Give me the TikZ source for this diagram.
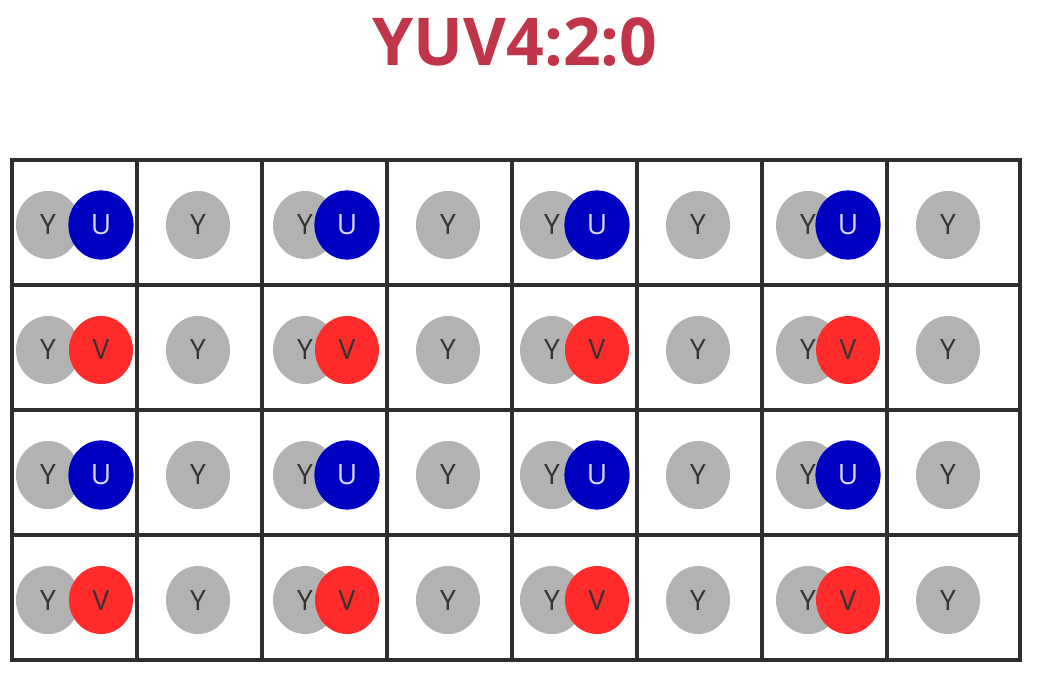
\documentclass[tikz,border=0pt]{standalone}
\usepackage{fontspec}
\setmainfont{Open Sans}
\usetikzlibrary{shapes.geometric}
\definecolor{titlec}{HTML}{C0354A}
\definecolor{ygray}{HTML}{B2B2B2}
\definecolor{ublue}{HTML}{0000C0}
\definecolor{vred}{HTML}{FF2A2A}
\definecolor{gridc}{HTML}{2E2E2E}
\definecolor{txt}{HTML}{333333}
\tikzset{
  samp/.style={ellipse, minimum width=64pt, minimum height=68pt, inner sep=0pt, font=\fontsize{28}{28}\selectfont, text=txt},
  ys/.style={samp, fill=ygray},
  us/.style={samp, fill=ublue, draw=blue!80!black, line width=1.2pt, text=white!85!blue},
  vs/.style={samp, fill=vred, text=txt},
  gridl/.style={draw=gridc, line width=4pt, line cap=rect}
}
\begin{document}
\begin{tikzpicture}[x=1pt,y=-1pt]
\useasboundingbox (0,0) rectangle (1044,685);
\fill[white] (0,0) rectangle (1044,685);
\node[font=\fontsize{66}{66}\selectfont\bfseries, text=titlec] (title) at (515,42) {YUV4:2:0};
% samples
\foreach \r/\yy in {0/225,1/350,2/475,3/600}{
  \foreach \c/\xl/\yo/\uo in {0/12/36/89,2/262/43/85,4/512/40/85,6/762/46/86}{
    \node[ys] (y\r\c) at (\xl+\yo,\yy) {Y};
    \ifodd\r
      \node[vs] (c\r\c) at (\xl+\uo,\yy) {V};
    \else
      \node[us] (c\r\c) at (\xl+\uo,\yy) {U};
    \fi
  }
  \foreach \c/\xl in {1/137,3/387,5/637,7/887}{
    \node[ys] (y\r\c) at (\xl+61,\yy) {Y};
  }
}
% grid
\foreach \x in {12,137,262,387,512,637,762,887,1020}{
  \draw[gridl] (\x,160) -- (\x,660);
}
\foreach \y in {160,285,410,535,660}{
  \draw[gridl] (12,\y) -- (1020,\y);
}
\end{tikzpicture}
\end{document}
